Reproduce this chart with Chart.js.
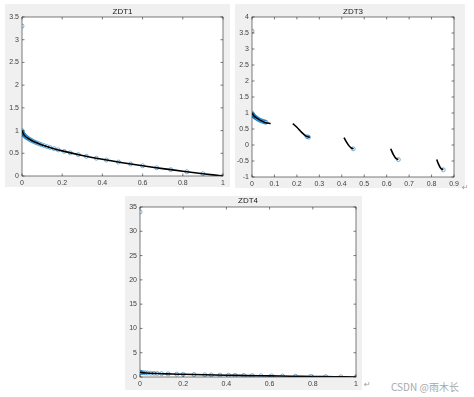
<!DOCTYPE html>
<html>
<head>
<meta charset="utf-8">
<script src="https://cdn.jsdelivr.net/npm/chart.js@4"></script>
<style>
  body { margin: 0; background: #fff; width: 474px; height: 397px; position: relative; overflow: hidden; }
  .panel { position: absolute; background: #f0f0f0; }
  .panel canvas { display: block; }
  .mark { position: absolute; font: 8px 'DejaVu Sans', sans-serif; color: #999; }
  #wm { position: absolute; left: 391px; top: 379px; font: 10px 'Noto Sans CJK SC', 'Noto Sans', sans-serif; color: #a8a8a8; }
</style>
</head>
<body>
<div class="panel" style="left:5px;top:4px;width:225px;height:183px"><canvas id="zdt1" width="225" height="183"></canvas></div>
<div class="panel" style="left:235px;top:4px;width:230px;height:184px"><canvas id="zdt3" width="230" height="184"></canvas></div>
<div class="panel" style="left:125px;top:196px;width:237px;height:194px"><canvas id="zdt4" width="237" height="194"></canvas></div>
<span class="mark" style="left:462px;top:183px">↵</span>
<span class="mark" style="left:364px;top:380px">↵</span>
<div id="wm">CSDN @雨木长</div>
<script>
// ZDT1 - điểm thu được (xanh) và mặt Pareto thật (đen)
const zdt1X = [0, 0, 0.001, 0.002, 0.004, 0.006, 0.009, 0.012, 0.016, 0.02, 0.025, 0.03, 0.036, 0.042, 0.05, 0.058, 0.067, 0.076, 0.086, 0.097, 0.11, 0.125, 0.14, 0.16, 0.18, 0.21, 0.24, 0.28, 0.32, 0.37, 0.42, 0.48, 0.54, 0.6, 0.67, 0.74, 0.82, 0.9, 1.0];
const zdt1Y = [3.3, 1.0, 0.97, 0.955, 0.937, 0.923, 0.905, 0.89, 0.874, 0.859, 0.842, 0.827, 0.81, 0.795, 0.776, 0.759, 0.741, 0.724, 0.707, 0.689, 0.668, 0.646, 0.626, 0.6, 0.576, 0.542, 0.51, 0.471, 0.434, 0.392, 0.352, 0.307, 0.265, 0.225, 0.181, 0.14, 0.094, 0.051, 0.0];
const front1X = [0, 0.01, 0.03, 0.06, 0.1, 0.15, 0.2, 0.3, 0.4, 0.5, 0.6, 0.7, 0.8, 0.9, 1];
const front1Y = [1, 0.9, 0.827, 0.755, 0.684, 0.613, 0.553, 0.452, 0.368, 0.293, 0.225, 0.163, 0.106, 0.051, 0];

// ZDT3 - mặt Pareto rời rạc (null = ngắt đoạn)
const zdt3X = [0, 0, 0.002, 0.004, 0.006, 0.008, 0.01, 0.013, 0.016, 0.02, 0.024, 0.028, 0.033, 0.038, 0.043, 0.048, 0.053, 0.058, 0.062, 0.245, 0.252, 0.451, 0.652, 0.852];
const zdt3Y = [3.56, 1.0, 0.95, 0.93, 0.92, 0.9, 0.89, 0.87, 0.86, 0.84, 0.82, 0.8, 0.78, 0.77, 0.75, 0.74, 0.73, 0.72, 0.71, 0.26, 0.245, -0.12, -0.455, -0.775];
const front3X = [0, 0.01, 0.02, 0.04, 0.06, 0.083, null, 0.182, 0.2, 0.22, 0.24, 0.258, null, 0.41, 0.42, 0.43, 0.44, 0.452, null, 0.618, 0.63, 0.64, 0.652, null, 0.823, 0.83, 0.84, 0.852];
const front3Y = [1, 0.897, 0.847, 0.762, 0.698, 0.671, null, 0.67, 0.553, 0.402, 0.282, 0.242, null, 0.233, 0.105, -0.004, -0.082, -0.123, null, -0.117, -0.304, -0.409, -0.458, null, -0.451, -0.582, -0.715, -0.773];

// ZDT4
const zdt4X = [0, 0, 0.003, 0.008, 0.015, 0.025, 0.035, 0.05, 0.065, 0.08, 0.1, 0.13, 0.17, 0.2, 0.25, 0.3, 0.33, 0.37, 0.41, 0.44, 0.48, 0.52, 0.56, 0.61, 0.66, 0.72, 0.79, 0.86, 0.93, 1.0];
const zdt4Y = [34, 1.0, 0.95, 0.91, 0.88, 0.84, 0.81, 0.78, 0.75, 0.72, 0.68, 0.64, 0.59, 0.55, 0.5, 0.45, 0.43, 0.39, 0.36, 0.34, 0.31, 0.28, 0.25, 0.22, 0.19, 0.15, 0.11, 0.07, 0.035, 0.0];
const front4X = [0, 0.01, 0.03, 0.06, 0.1, 0.15, 0.2, 0.3, 0.4, 0.5, 0.6, 0.7, 0.8, 0.9, 1];
const front4Y = [1, 0.9, 0.827, 0.755, 0.684, 0.613, 0.553, 0.452, 0.368, 0.293, 0.225, 0.163, 0.106, 0.051, 0];

const toPts = (xs, ys) => xs.map((x, i) => ({ x: x, y: x === null ? null : ys[i] }));
const fmt = v => String(Math.round(v * 100) / 100);

// Nền trắng cho vùng vẽ
const whiteArea = {
  id: 'whiteArea',
  beforeDatasetsDraw(chart) {
    const { ctx, chartArea: a } = chart;
    ctx.save();
    ctx.fillStyle = '#fff';
    ctx.fillRect(a.left, a.top, a.right - a.left, a.bottom - a.top);
    ctx.restore();
  }
};

// Khung và vạch chia kiểu MATLAB (vạch hướng vào trong)
const matlabBox = {
  id: 'matlabBox',
  afterDraw(chart, args, opts) {
    const { ctx, chartArea: a, scales } = chart;
    ctx.save();
    ctx.strokeStyle = '#262626';
    ctx.lineWidth = 0.6;
    ctx.strokeRect(a.left, a.top, a.right - a.left, a.bottom - a.top);
    ctx.beginPath();
    scales.x.ticks.forEach(t => {
      const px = scales.x.getPixelForValue(t.value);
      ctx.moveTo(px, a.bottom); ctx.lineTo(px, a.bottom - 2.5);
      ctx.moveTo(px, a.top); ctx.lineTo(px, a.top + 2.5);
    });
    scales.y.ticks.forEach(t => {
      const py = scales.y.getPixelForValue(t.value);
      ctx.moveTo(a.left, py); ctx.lineTo(a.left + 2.5, py);
      ctx.moveTo(a.right, py); ctx.lineTo(a.right - 2.5, py);
    });
    ctx.stroke();
    ctx.fillStyle = '#1a1a1a';
    ctx.font = '8px "Liberation Sans", Arial, sans-serif';
    ctx.textAlign = 'center';
    ctx.textBaseline = 'middle';
    ctx.fillText(opts.text, (a.left + a.right) / 2, a.top - opts.offset);
    ctx.restore();
  }
};

const tickFont = { size: 7, family: '"Liberation Sans", Arial, sans-serif' };

const makeChart = (id, cfg) => {
  new Chart(id, {
    type: 'scatter',
    data: {
      datasets: [{
        data: toPts(cfg.frontX, cfg.frontY),
        showLine: true,
        spanGaps: false,
        borderColor: '#000',
        borderWidth: 1.6,
        pointRadius: 0,
        tension: 0.3,
        order: 1
      }, {
        data: toPts(cfg.ptsX, cfg.ptsY),
        showLine: false,
        pointStyle: 'circle',
        pointRadius: 2,
        borderColor: 'rgba(0,114,189,0.75)',
        backgroundColor: 'rgba(0,0,0,0)',
        borderWidth: 0.7,
        order: 2
      }]
    },
    options: {
      responsive: false,
      animation: false,
      layout: { padding: { top: cfg.top, right: cfg.right, left: 0, bottom: 0 } },
      plugins: {
        legend: { display: false },
        tooltip: { enabled: false },
        matlabBox: { text: cfg.title, offset: cfg.titleOffset }
      },
      scales: {
        x: {
          type: 'linear', min: cfg.xMin, max: cfg.xMax,
          grid: { display: false, drawTicks: false }, border: { display: false },
          afterFit: s => { s.height = cfg.xH; },
          ticks: { stepSize: cfg.xStep, padding: 3, maxRotation: 0, autoSkip: false, color: '#404040', font: tickFont, callback: fmt }
        },
        y: {
          type: 'linear', min: cfg.yMin, max: cfg.yMax,
          grid: { display: false, drawTicks: false }, border: { display: false },
          afterFit: s => { s.width = cfg.yW; },
          ticks: { stepSize: cfg.yStep, padding: 3, autoSkip: false, color: '#404040', font: tickFont, callback: fmt }
        }
      }
    },
    plugins: [whiteArea, matlabBox]
  });
};

makeChart('zdt1', { title: 'ZDT1', titleOffset: 5, ptsX: zdt1X, ptsY: zdt1Y, frontX: front1X, frontY: front1Y,
  xMin: 0, xMax: 1, xStep: 0.2, yMin: 0, yMax: 3.5, yStep: 0.5, top: 13, right: 7, xH: 11, yW: 17 });
makeChart('zdt3', { title: 'ZDT3', titleOffset: 5, ptsX: zdt3X, ptsY: zdt3Y, frontX: front3X, frontY: front3Y,
  xMin: 0, xMax: 0.9, xStep: 0.1, yMin: -1, yMax: 4, yStep: 0.5, top: 13, right: 11, xH: 11, yW: 17 });
makeChart('zdt4', { title: 'ZDT4', titleOffset: 6, ptsX: zdt4X, ptsY: zdt4Y, frontX: front4X, frontY: front4Y,
  xMin: 0, xMax: 1, xStep: 0.2, yMin: 0, yMax: 35, yStep: 5, top: 11, right: 6, xH: 13, yW: 15 });
</script>
</body>
</html>
